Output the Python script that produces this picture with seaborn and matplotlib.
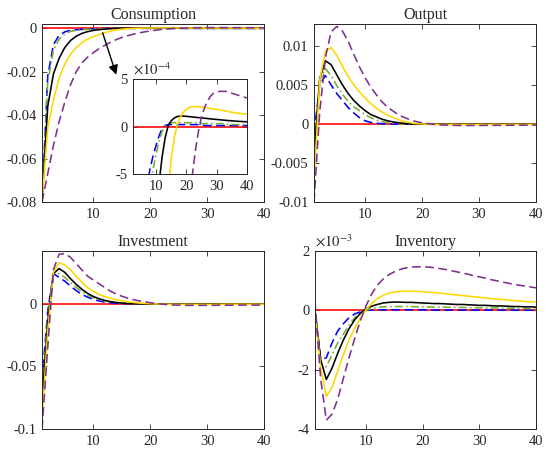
import numpy as np
import matplotlib
matplotlib.use("Agg")
import matplotlib.pyplot as plt
import seaborn as sns

# impulse responses, periods 1..40
periods = np.arange(1, 41)
steady = [0.0] * 40

# Consumption
cons_blue = [-0.080, -0.022, -0.0075, -0.0032, -0.0016, -0.0009, -0.00062, -0.00045, -0.00031, -0.0002,
             -0.0001, -0.00002, 0.00001, 0.00002, 0.00002, 0.00002, 0.00002, 0.00002, 0.00002, 0.00002,
             0.00002, 0.00002, 0.00002, 0.00002, 0.00002, 0.00001, 0.00001, 0.00001, 0.00001, 0.00001,
             0.00001, 0.00001, 0.00001, 0.00001, 0.00001, 0.00001, 0.00001, 0.00001, 0.00001, 0.00001]
cons_green = [-0.080, -0.025, -0.010, -0.0050, -0.0025, -0.0014, -0.0009, -0.00065, -0.00045, -0.0003,
              -0.00015, -0.00005, 0.00001, 0.00003, 0.00004, 0.00004, 0.00004, 0.00004, 0.00004, 0.00004,
              0.00004, 0.00004, 0.00004, 0.00003, 0.00003, 0.00003, 0.00003, 0.00003, 0.00003, 0.00003,
              0.00003, 0.00003, 0.00003, 0.00002, 0.00002, 0.00002, 0.00002, 0.00002, 0.00002, 0.00002]
cons_black = [-0.080, -0.036, -0.021, -0.0138, -0.0088, -0.0056, -0.0036, -0.0023, -0.0015, -0.00095,
              -0.0006, -0.00032, -0.00012, 0.00001, 0.00006, 0.00009, 0.000105, 0.00011, 0.00011, 0.000107,
              0.000104, 0.0001, 0.000097, 0.000094, 0.00009, 0.000087, 0.000084, 0.00008, 0.000077, 0.000074,
              0.000071, 0.000068, 0.000065, 0.000062, 0.00006, 0.000057, 0.000055, 0.000053, 0.000051, 0.00005]
cons_yellow = [-0.080, -0.046, -0.033, -0.023, -0.0165, -0.012, -0.0088, -0.0066, -0.005, -0.0038,
               -0.0028, -0.002, -0.0013, -0.0007, -0.00035, -0.00012, 0.00002, 0.0001, 0.00015, 0.00018,
               0.0002, 0.00021, 0.00021, 0.00021, 0.000205, 0.0002, 0.000195, 0.00019, 0.000185, 0.00018,
               0.000174, 0.000168, 0.000162, 0.000156, 0.00015, 0.000145, 0.00014, 0.000137, 0.000133, 0.00013]
cons_purple = [-0.080, -0.067, -0.054, -0.043, -0.034, -0.026, -0.020, -0.0158, -0.0133, -0.0112,
               -0.0094, -0.0079, -0.0064, -0.0052, -0.0042, -0.0034, -0.0027, -0.0021, -0.0016, -0.0012,
               -0.0008, -0.0005, -0.00025, -0.00005, 0.0001, 0.0002, 0.00027, 0.00032, 0.00035, 0.00036,
               0.00037, 0.00037, 0.00037, 0.00036, 0.00035, 0.00034, 0.00033, 0.00032, 0.00031, 0.0003]

# Output
out_blue = [-0.0012, 0.0050, 0.0062, 0.0050, 0.0039, 0.0030, 0.0021, 0.0014, 0.0008, 0.0004,
            0.0002, 0.0001, 0.00003, 0.0, -0.00001, -0.00002, -0.00002, -0.00002, -0.00002, -0.00002,
            -0.00001, -0.00001, -0.00001, -0.00001, -0.00001, -0.00001, -0.00001, -0.00001, -0.00001, -0.00001,
            -0.00001, -0.00001, -0.00001, -0.00001, -0.00001, -0.00001, -0.00001, -0.00001, -0.00001, -0.00001]
out_green = [-0.0030, 0.0056, 0.0071, 0.0062, 0.0049, 0.0038, 0.0029, 0.0022, 0.0017, 0.0012,
             0.0008, 0.0005, 0.0003, 0.00018, 0.0001, 0.00004, 0.0, -0.00002, -0.00003, -0.00003,
             -0.00003, -0.00003, -0.00003, -0.00003, -0.00003, -0.00003, -0.00003, -0.00003, -0.00003, -0.00003,
             -0.00002, -0.00002, -0.00002, -0.00002, -0.00002, -0.00002, -0.00002, -0.00002, -0.00002, -0.00002]
out_black = [-0.0045, 0.0058, 0.0081, 0.0076, 0.0063, 0.0050, 0.0039, 0.0030, 0.0023, 0.0017,
             0.0012, 0.0009, 0.0006, 0.0004, 0.00025, 0.00015, 0.00007, 0.00002, -0.00001, -0.00003,
             -0.00004, -0.00004, -0.00004, -0.00004, -0.00004, -0.00004, -0.00004, -0.00004, -0.00004, -0.00004,
             -0.00003, -0.00003, -0.00003, -0.00003, -0.00003, -0.00003, -0.00003, -0.00003, -0.00003, -0.00003]
out_yellow = [-0.0076, 0.0056, 0.0093, 0.0098, 0.0088, 0.0074, 0.0061, 0.0050, 0.0041, 0.0033,
              0.0026, 0.0020, 0.0015, 0.0011, 0.0008, 0.0005, 0.0003, 0.00015, 0.00005, 0.0,
              -0.00003, -0.00005, -0.00006, -0.00006, -0.00006, -0.00006, -0.00006, -0.00006, -0.00006, -0.00006,
              -0.00006, -0.00005, -0.00005, -0.00005, -0.00005, -0.00005, -0.00005, -0.00005, -0.00005, -0.00005]
out_purple = [-0.0100, 0.0015, 0.0085, 0.0118, 0.0125, 0.0119, 0.0106, 0.0089, 0.0073, 0.0059,
              0.0047, 0.0037, 0.0028, 0.0021, 0.0016, 0.0011, 0.0008, 0.0005, 0.0003, 0.00015,
              0.00005, -0.00003, -0.0001, -0.00014, -0.00017, -0.00018, -0.00019, -0.00019, -0.00019, -0.00019,
              -0.00018, -0.00018, -0.00017, -0.00017, -0.00016, -0.00016, -0.00015, -0.00015, -0.00015, -0.00014]

# Investment
invest_blue = [-0.062, -0.006, 0.024, 0.021, 0.018, 0.014, 0.0105, 0.0075, 0.0052, 0.0035,
               0.0022, 0.0013, 0.0007, 0.0003, 0.0001, 0.0, -0.0001, -0.0001, -0.0001, -0.0001,
               -0.0001, -0.0001, -0.0001, -0.0001, -0.0001, -0.0001, -0.0001, -0.0001, -0.0001, -0.0001,
               -0.0001, -0.0001, -0.0001, -0.0001, -0.0001, -0.0001, -0.0001, -0.0001, -0.0001, -0.0001]
invest_green = [-0.070, -0.010, 0.024, 0.024, 0.021, 0.017, 0.013, 0.0095, 0.0068, 0.0048,
                0.0033, 0.0022, 0.0014, 0.0008, 0.0004, 0.0001, 0.0, -0.0001, -0.0001, -0.0002,
                -0.0002, -0.0002, -0.0002, -0.0002, -0.0002, -0.0002, -0.0002, -0.0002, -0.0002, -0.0002,
                -0.0001, -0.0001, -0.0001, -0.0001, -0.0001, -0.0001, -0.0001, -0.0001, -0.0001, -0.0001]
invest_black = [-0.080, -0.015, 0.024, 0.028, 0.025, 0.020, 0.0155, 0.0115, 0.0083, 0.0058,
                0.004, 0.0027, 0.0017, 0.001, 0.0005, 0.0002, 0.0, -0.0001, -0.0002, -0.0002,
                -0.0003, -0.0003, -0.0003, -0.0003, -0.0003, -0.0003, -0.0003, -0.0003, -0.0002, -0.0002,
                -0.0002, -0.0002, -0.0002, -0.0002, -0.0002, -0.0002, -0.0002, -0.0002, -0.0002, -0.0002]
invest_yellow = [-0.093, -0.022, 0.025, 0.0325, 0.031, 0.027, 0.022, 0.017, 0.0128, 0.0098,
                 0.0075, 0.0057, 0.0043, 0.0032, 0.0023, 0.0016, 0.001, 0.0005, 0.0002, 0.0,
                 -0.0002, -0.0003, -0.0004, -0.0005, -0.0005, -0.0005, -0.0005, -0.0005, -0.0005, -0.0005,
                 -0.0005, -0.0005, -0.0004, -0.0004, -0.0004, -0.0004, -0.0004, -0.0004, -0.0004, -0.0004]
invest_purple = [-0.100, -0.035, 0.027, 0.0395, 0.040, 0.037, 0.032, 0.027, 0.022, 0.019,
                 0.016, 0.013, 0.010, 0.0078, 0.006, 0.0045, 0.0033, 0.0023, 0.0015, 0.0008,
                 0.0002, -0.0003, -0.0007, -0.001, -0.0012, -0.0013, -0.0013, -0.0013, -0.0013, -0.0013,
                 -0.0013, -0.0012, -0.0012, -0.0012, -0.0012, -0.0011, -0.0011, -0.0011, -0.0011, -0.0011]

# Inventory
stock_blue = [0.0, -0.00165, -0.0016, -0.0011, -0.0007, -0.00045, -0.00025, -0.00012, -0.00005, 0.0,
              0.00001, 0.00002, 0.00002, 0.00002, 0.00002, 0.00002, 0.00002, 0.00002, 0.00002, 0.00002,
              0.00001, 0.00001, 0.00001, 0.00001, 0.00001, 0.00001, 0.00001, 0.00001, 0.00001, 0.00001,
              0.00001, 0.00001, 0.00001, 0.00001, 0.00001, 0.00001, 0.00001, 0.00001, 0.00001, 0.00001]
stock_green = [0.0, -0.0018, -0.0019, -0.0015, -0.0011, -0.0008, -0.0005, -0.00025, -0.0001, 0.0,
               0.00006, 0.0001, 0.00012, 0.00013, 0.00013, 0.00013, 0.00013, 0.00013, 0.00012, 0.00012,
               0.00012, 0.00011, 0.00011, 0.00011, 0.0001, 0.0001, 0.0001, 0.00009, 0.00009, 0.00009,
               0.00008, 0.00008, 0.00008, 0.00007, 0.00007, 0.00007, 0.00006, 0.00006, 0.00006, 0.00005]
stock_black = [0.0, -0.00165, -0.00233, -0.00195, -0.00145, -0.001, -0.00062, -0.00032, -0.0001, 0.00005,
               0.00014, 0.0002, 0.00025, 0.00027, 0.00028, 0.00028, 0.00027, 0.00027, 0.00026, 0.00025,
               0.00024, 0.00023, 0.00023, 0.00022, 0.00021, 0.0002, 0.0002, 0.00019, 0.00018, 0.00017,
               0.00017, 0.00016, 0.00015, 0.00015, 0.00014, 0.00013, 0.00013, 0.00012, 0.00012, 0.00011]
stock_yellow = [0.0, -0.0019, -0.0029, -0.0026, -0.00205, -0.0015, -0.001, -0.0006, -0.00025, 0.00002,
                0.00022, 0.0004, 0.0005, 0.00058, 0.00062, 0.00064, 0.00065, 0.00065, 0.00064, 0.00063,
                0.00061, 0.0006, 0.00058, 0.00056, 0.00054, 0.00052, 0.0005, 0.00048, 0.00046, 0.00044,
                0.00042, 0.0004, 0.00038, 0.00037, 0.00035, 0.00033, 0.00032, 0.0003, 0.00029, 0.00028]
stock_purple = [0.0003, -0.0023, -0.0037, -0.0035, -0.003, -0.0023, -0.0016, -0.00095, -0.00035, 0.00015,
                0.00055, 0.00085, 0.00105, 0.0012, 0.0013, 0.00138, 0.00143, 0.00146, 0.00147, 0.00147,
                0.00146, 0.00144, 0.00141, 0.00138, 0.00134, 0.0013, 0.00126, 0.00122, 0.00117, 0.00113,
                0.00109, 0.00104, 0.001, 0.00096, 0.00092, 0.00088, 0.00085, 0.00082, 0.00079, 0.00076]

sns.set_style("ticks")
plt.rcParams['font.family'] = ['Liberation Serif', 'DejaVu Serif']
plt.rcParams['mathtext.fontset'] = 'stix'
plt.rcParams['axes.unicode_minus'] = False

dashed = (0, (5.5, 2.8))
dashdot = (0, (5, 2, 1, 2))
line_styles = [('#FF0000', '-'), ('#0000FF', dashed), ('#77AC30', dashdot),
               ('#000000', '-'), ('#FFD700', '-'), ('#7E2F8E', dashed)]
edge = '#262626'


def draw_lines(ax, series, scale=1.0):
    for vals, (col, ls) in zip(series, line_styles):
        sns.lineplot(x=periods, y=np.array(vals) * scale, ax=ax, color=col,
                     linestyle=ls, linewidth=1.15)


def style_axes(ax, yticks, ylabels, ylim, xlim=(1, 40), size=10.5):
    ax.set_xlim(*xlim)
    ax.set_ylim(*ylim)
    ax.set_xticks([10, 20, 30, 40])
    ax.set_xticklabels(['10', '20', '30', '40'])
    ax.set_yticks(yticks)
    ax.set_yticklabels(ylabels)
    ax.tick_params(direction='in', top=True, right=True, length=3.5, width=0.6,
                   labelsize=size, colors=edge, pad=4)
    for sp in ax.spines.values():
        sp.set_visible(True)
        sp.set_color(edge)
        sp.set_linewidth(0.7)
    ax.set_xlabel('')
    ax.set_ylabel('')


fig = plt.figure(figsize=(5.5, 4.54), dpi=100)

ax_c = fig.add_axes([0.0764, 0.555, 0.4036, 0.392])
ax_o = fig.add_axes([0.5709, 0.555, 0.4036, 0.392])
ax_i = fig.add_axes([0.0764, 0.055, 0.4036, 0.392])
ax_s = fig.add_axes([0.5727, 0.055, 0.4018, 0.392])

draw_lines(ax_c, [steady, cons_blue, cons_green, cons_black, cons_yellow, cons_purple])
style_axes(ax_c, [-0.08, -0.06, -0.04, -0.02, 0], ['-0.08', '-0.06', '-0.04', '-0.02', '0'], (-0.08, 0.002))
ax_c.set_title('Consumption', fontsize=11.5, pad=4)

draw_lines(ax_o, [steady, out_blue, out_green, out_black, out_yellow, out_purple])
style_axes(ax_o, [-0.01, -0.005, 0, 0.005, 0.01], ['-0.01', '-0.005', '0', '0.005', '0.01'], (-0.01, 0.0128))
ax_o.set_title('Output', fontsize=11.5, pad=4)

draw_lines(ax_i, [steady, invest_blue, invest_green, invest_black, invest_yellow, invest_purple])
style_axes(ax_i, [-0.1, -0.05, 0], ['-0.1', '-0.05', '0'], (-0.1, 0.042))
ax_i.set_title('Investment', fontsize=11.5, pad=4)

draw_lines(ax_s, [steady, stock_blue, stock_green, stock_black, stock_yellow, stock_purple], scale=1e3)
style_axes(ax_s, [-4, -2, 0, 2], ['-4', '-2', '0', '2'], (-4, 2))
ax_s.set_title('Inventory', fontsize=11.5, pad=4)
ax_s.text(0.0, 1.01, r'$\times10^{-3}$', transform=ax_s.transAxes, fontsize=10.5,
          color=edge, ha='left', va='bottom')

# zoomed inset of consumption
ax_z = fig.add_axes([0.2418, 0.6167, 0.2073, 0.2093])
draw_lines(ax_z, [steady, cons_blue, cons_green, cons_black, cons_yellow, cons_purple], scale=1e4)
style_axes(ax_z, [-5, 0, 5], ['-5', '0', '5'], (-5, 5), xlim=(2.4, 40))
ax_z.text(0.0, 1.01, r'$\times10^{-4}$', transform=ax_z.transAxes, fontsize=10.5,
          color=edge, ha='left', va='bottom')

ax_c.annotate('', xy=(14.2, -0.0226), xytext=(11.5, -0.0008),
              arrowprops=dict(arrowstyle='-|>', color='k', lw=1.0, mutation_scale=14))

fig.savefig('out.png', dpi=100)
